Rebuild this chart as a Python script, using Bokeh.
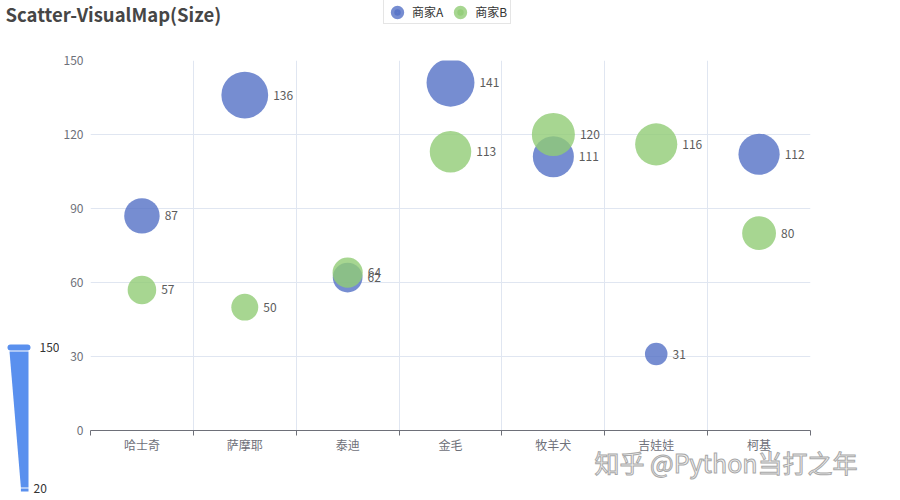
from bokeh.plotting import figure
from bokeh.layouts import column, row
from bokeh.models import (Range1d, FixedTicker, ColumnDataSource, Label, Legend, LegendItem,
                          LinearInterpolator, Title)
from bokeh.transform import transform
from bokeh.core.properties import value
from bokeh.embed import file_html
from bokeh.resources import INLINE

# ---------------- data ----------------
title_text = "Scatter-VisualMap(Size)"
categories = ["哈士奇", "萨摩耶", "泰迪", "金毛", "牧羊犬", "吉娃娃", "柯基"]
series_names = ["商家A", "商家B"]
values_a = [87, 136, 62, 141, 111, 31, 112]
values_b = [57, 50, 64, 113, 120, 116, 80]
y_ticks = [0, 30, 60, 90, 120, 150]
visual_min, visual_max = 20, 150
symbol_range = [20, 50]
watermark = "知乎 @Python当打之年"

CJK = "Noto Sans CJK SC"
colors = ["#5470c6", "#91cc75"]
vm_color = "#5a90ee"

W, H = 884, 498
HEAD_H = 50
VM_W = 59
n = len(categories)
xs = [i + 0.5 for i in range(n)]


def bare(fig):
    fig.outline_line_color = None
    fig.min_border_left = fig.min_border_right = 0
    fig.min_border_top = fig.min_border_bottom = 0
    fig.background_fill_color = "white"
    fig.border_fill_color = "white"
    return fig


# ---------------- header: title + legend ----------------
head = bare(figure(width=W, height=HEAD_H, x_range=Range1d(0, W), y_range=Range1d(HEAD_H, 0),
                   x_axis_type=None, y_axis_type=None, output_backend="svg",
                   toolbar_location=None))
head.add_layout(Label(x=5, y=13, text=title_text, text_font=CJK, text_font_style="bold",
                      text_font_size="18.5px", text_color="#464646", text_baseline="middle",
                      text_align="left"))
items = []
for name, col in zip(series_names, colors):
    # off-canvas point: only its legend icon is seen
    r = head.scatter(x=[-1000], y=[-1000], size=6, fill_color=col, fill_alpha=0.8,
                     line_color=col, line_alpha=0.8, line_width=7)
    items.append(LegendItem(label=name, renderers=[r]))
legend = Legend(items=items, orientation="horizontal", location=(383, HEAD_H - 24),
                padding=3, spacing=7, glyph_width=20, glyph_height=16, label_height=16,
                label_standoff=5, label_text_font=CJK, label_text_font_size="12px",
                label_text_color="#333333", border_line_color="#cccccc",
                background_fill_color="white", background_fill_alpha=1, margin=0)
head.add_layout(legend, "center")

# ---------------- visual map (size) ----------------
vm = bare(figure(width=VM_W, height=H - HEAD_H, x_range=Range1d(0, VM_W),
                 y_range=Range1d(H, HEAD_H), x_axis_type=None, y_axis_type=None,
                 output_backend="svg", toolbar_location=None))
bar_right, bar_w = 28, 19
bar_top, bar_bottom = 351, 487
bottom_w = bar_w * symbol_range[0] / symbol_range[1]
vm.patch(x=[bar_right - bar_w, bar_right, bar_right, bar_right - bottom_w],
         y=[bar_top, bar_top, bar_bottom, bar_bottom], fill_color=vm_color, line_color=None)
vm.quad(left=[bar_right - bar_w - 2], right=[bar_right + 2], top=[344], bottom=[350],
        fill_color=vm_color, line_color=None, border_radius=3)
vm.quad(left=[bar_right - bottom_w], right=[bar_right], top=[488], bottom=[491],
        fill_color=vm_color, line_color=None)
vm.add_layout(Label(x=39, y=347, text=str(visual_max), text_font=CJK, text_font_size="12px",
                    text_color="#333333", text_baseline="middle", text_align="left"))
vm.add_layout(Label(x=33, y=488, text=str(visual_min), text_font=CJK, text_font_size="12px",
                    text_color="#333333", text_baseline="middle", text_align="left"))

# ---------------- main chart ----------------
p = figure(width=W - VM_W, height=H - HEAD_H, x_range=Range1d(0, n),
           y_range=Range1d(y_ticks[0], y_ticks[-1]), output_backend="svg",
           toolbar_location=None, min_border_left=90 - VM_W, min_border_right=W - 810,
           min_border_top=60 - HEAD_H, min_border_bottom=H - 430)
p.outline_line_color = None
p.background_fill_color = "white"
p.border_fill_color = "white"

xa = p.xaxis[0]
xa.ticker = FixedTicker(ticks=xs, minor_ticks=list(range(n + 1)))
xa.major_label_overrides = {x: c for x, c in zip(xs, categories)}
xa.major_tick_out = 0
xa.major_tick_in = 0
xa.minor_tick_out = 5
xa.minor_tick_in = 0
xa.minor_tick_line_color = "#6e7079"
xa.axis_line_color = "#6e7079"
xa.major_label_text_color = "#6e7079"
xa.major_label_text_font = CJK
xa.major_label_text_font_size = "12px"
xa.major_label_standoff = 0

ya = p.yaxis[0]
ya.ticker = FixedTicker(ticks=y_ticks, minor_ticks=[])
ya.axis_line_color = None
ya.major_tick_out = 0
ya.major_tick_in = 0
ya.minor_tick_out = 0
ya.major_label_text_color = "#6e7079"
ya.major_label_text_font = CJK
ya.major_label_text_font_size = "12px"
ya.major_label_standoff = 7

p.xgrid[0].ticker = FixedTicker(ticks=list(range(n + 1)))
p.ygrid[0].ticker = FixedTicker(ticks=y_ticks)
for g in (p.xgrid[0], p.ygrid[0]):
    g.grid_line_color = "#e0e6f1"
    g.grid_line_width = 1

size_map = LinearInterpolator(x=[visual_min, visual_max], y=symbol_range)
offset_map = LinearInterpolator(x=[visual_min, visual_max],
                                y=[symbol_range[0] / 2 + 5, symbol_range[1] / 2 + 5])

for vals, col in zip([values_a, values_b], colors):
    src = ColumnDataSource(dict(x=xs, y=vals, label=[str(v) for v in vals]))
    p.scatter("x", "y", source=src, size=transform("y", size_map),
              fill_color=col, fill_alpha=0.8, line_color=None)
    p.text("x", "y", text="label", source=src, x_offset=transform("y", offset_map),
           text_align="left", text_baseline="middle", text_color="#5c5c5c",
           text_font=value(CJK), text_font_size="12px")

# watermark under the axis
p.add_layout(Title(text=watermark, align="left", offset=594 - 90, standoff=-27,
                   text_font=CJK, text_font_size="25px", text_font_style="normal",
                   text_color="#f4f4f4", text_outline_color="#a8a8a8"), "below")

layout = column(head, row(column(vm), p))
open("out.html", "w").write(file_html(layout, INLINE))
